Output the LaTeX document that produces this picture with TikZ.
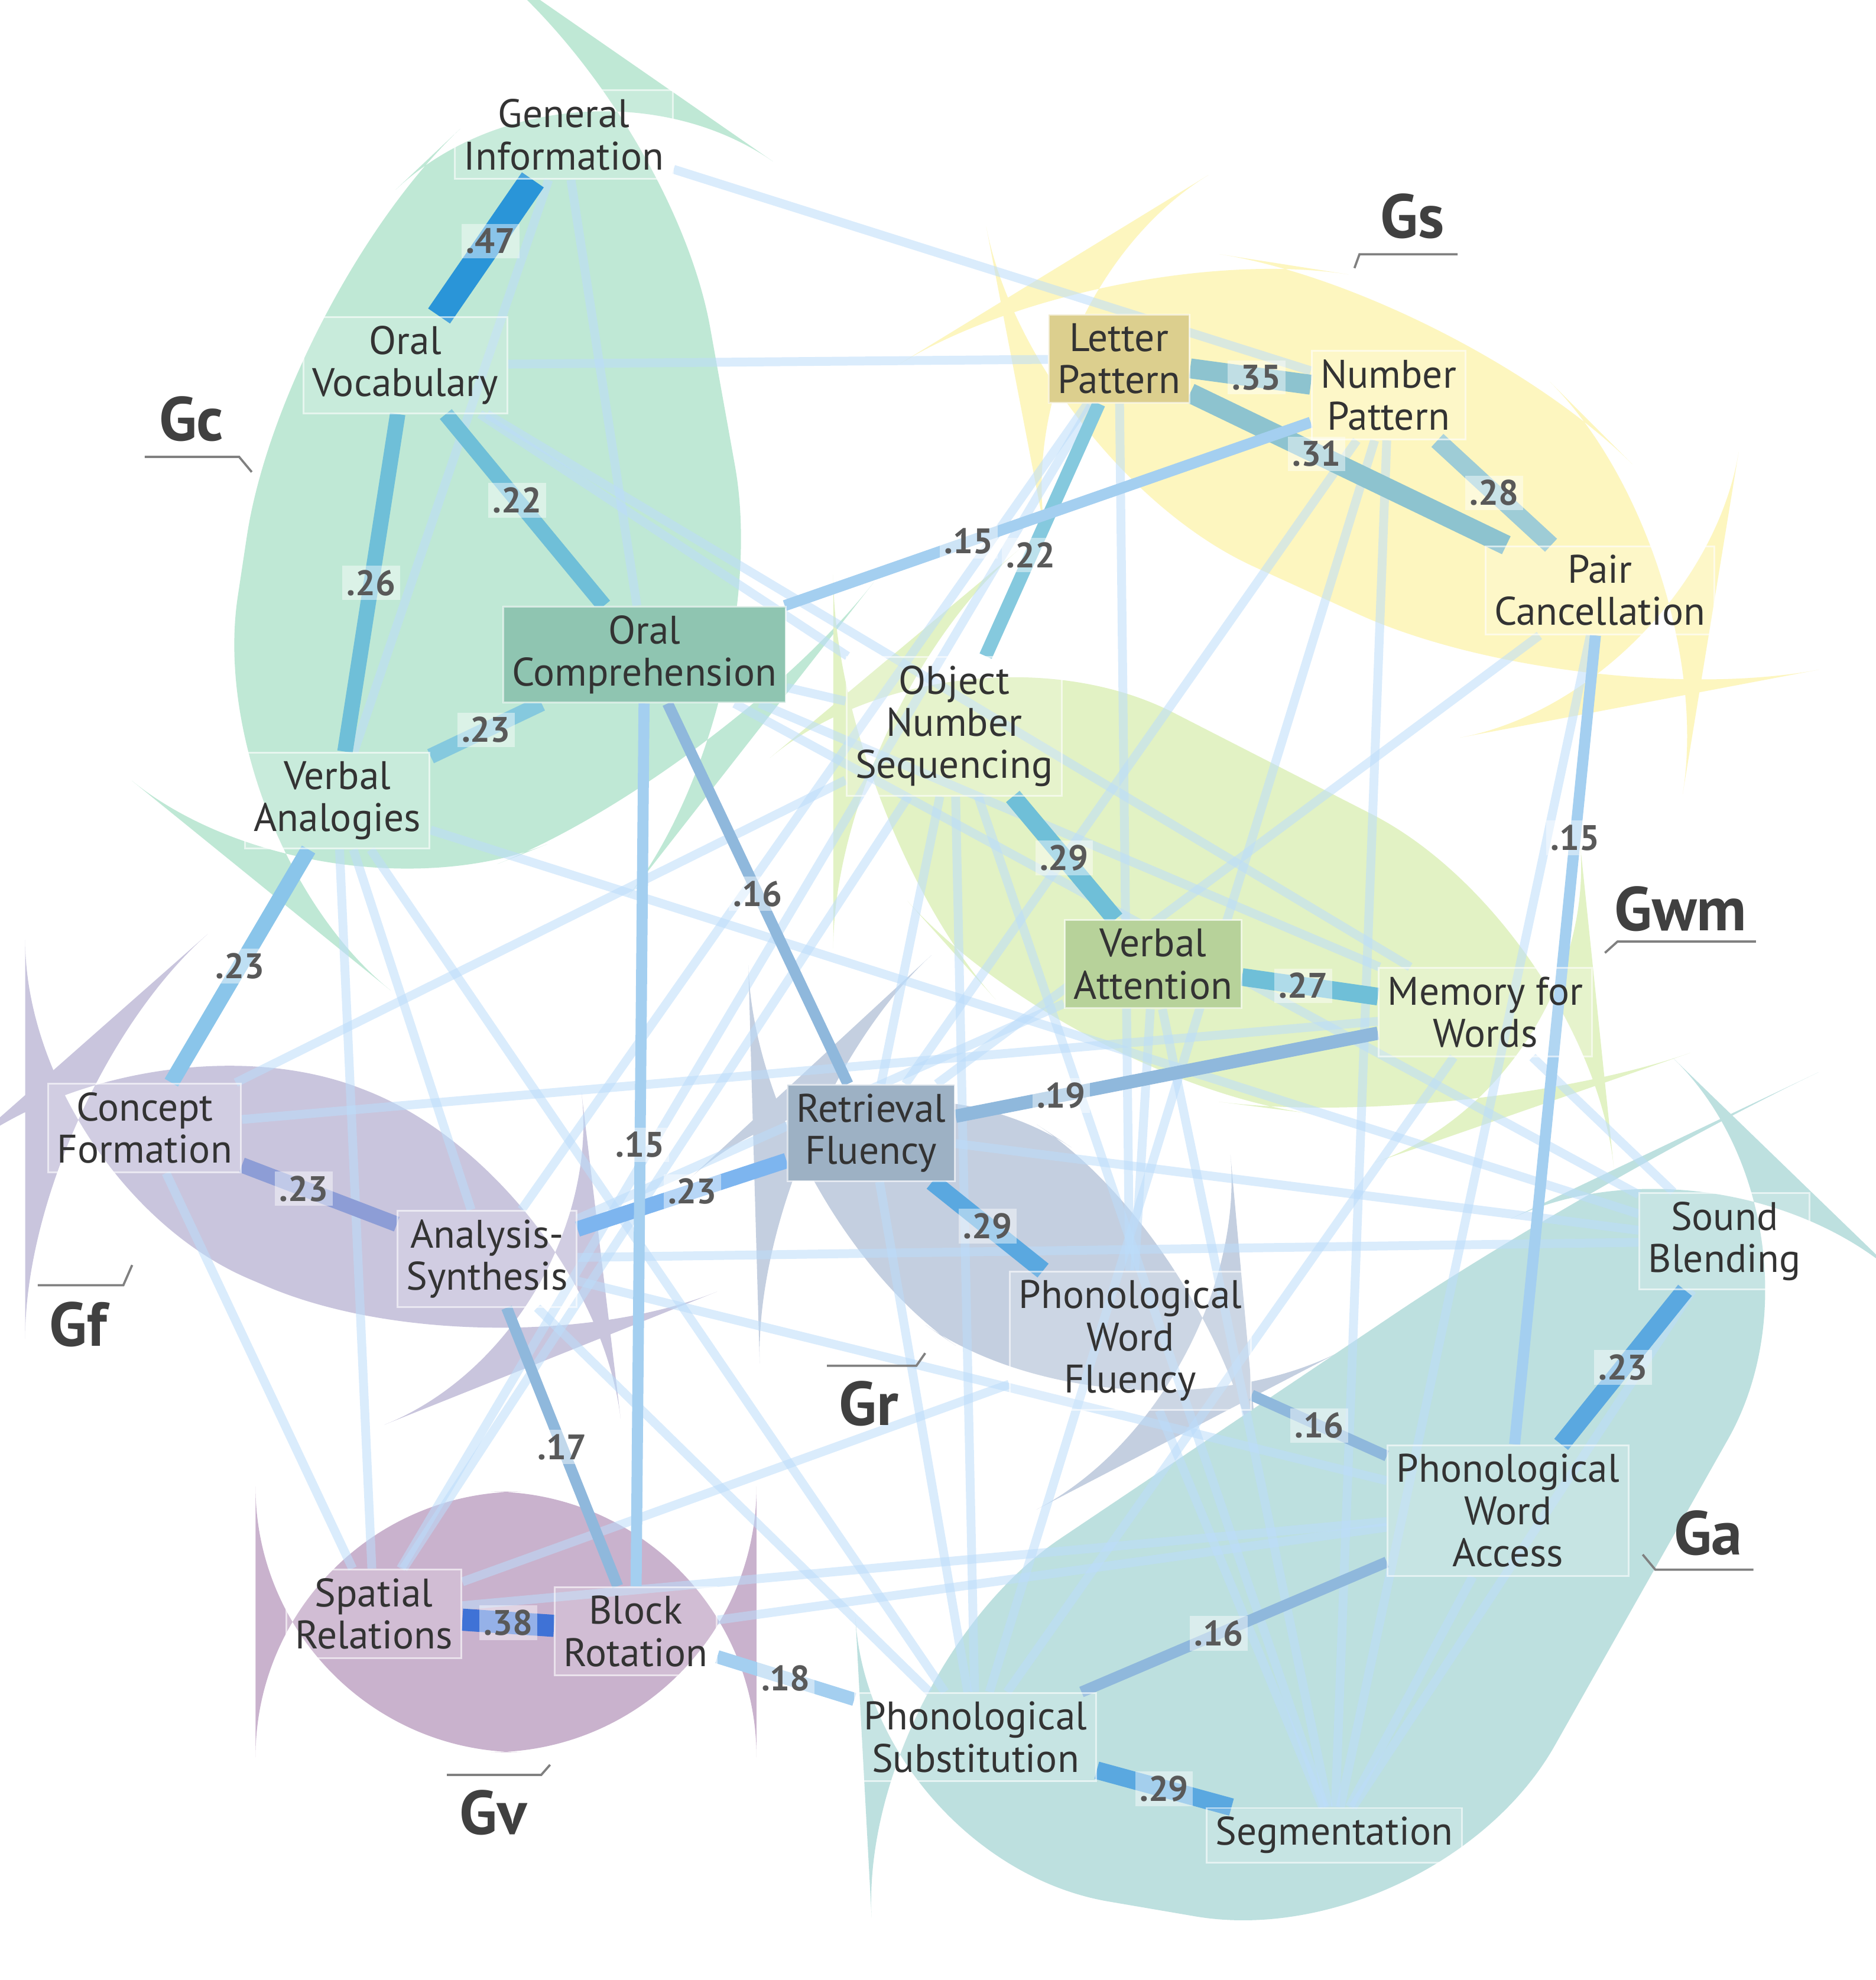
\documentclass[tikz,border=0pt]{standalone}
\usepackage{fontspec}
\setmainfont{PT Sans}
\usetikzlibrary{calc,positioning}
\definecolor{gccol}{HTML}{BFE8D5}
\definecolor{gscol}{HTML}{FDF6BF}
\definecolor{gwmcol}{HTML}{E2F2C4}
\definecolor{gfcol}{HTML}{C9C5DD}
\definecolor{grcol}{HTML}{C4CFE0}
\definecolor{gacol}{HTML}{BDE0DF}
\definecolor{gvcol}{HTML}{C9B2CD}
\definecolor{faintcol}{HTML}{BCDDFB}
\definecolor{ochub}{HTML}{8FC5B1}
\definecolor{lphub}{HTML}{DCCF8E}
\definecolor{vathub}{HTML}{B7D29A}
\definecolor{rfhub}{HTML}{9DB1C4}
\definecolor{ldark}{HTML}{2A95D8}
\definecolor{lteal}{HTML}{6FBFD8}
\definecolor{lsky}{HTML}{8AC5EA}
\definecolor{lpurp}{HTML}{8D9DD6}
\definecolor{lblue}{HTML}{7DB5EF}
\definecolor{lmid}{HTML}{8FB8DC}
\definecolor{lpale}{HTML}{A4CFF0}
\definecolor{lroyal}{HTML}{3F72D6}
\definecolor{lgreen}{HTML}{8DC3CF}
\definecolor{lstrong}{HTML}{5AA8E0}
\pgfdeclarelayer{bg}
\pgfdeclarelayer{mid}
\pgfsetlayers{bg,mid,main}
\tikzset{
    tasksty/.style={draw=white,draw opacity=0.6,fill=white,fill opacity=0.15,text opacity=1,align=center,
      inner sep=2pt,font=\fontsize{9}{9.5}\selectfont,text=black!80},
    hubsty/.style={tasksty,fill opacity=1},
    blobsty/.style={rounded corners=55pt,draw=none},
    faintsty/.style={faintcol,line width=2pt,opacity=0.55},
    wsty/.style={line width=#1},
    valsty/.style={font=\fontsize{8}{8}\selectfont\bfseries,text=black!65,fill=white,fill opacity=0.45,text opacity=1,inner sep=1pt},
    grpsty/.style={font=\fontsize{14}{14}\selectfont\bfseries,text=black!75},
    leadsty/.style={draw=black!50,line width=0.5pt},
}
\begin{document}
\begin{tikzpicture}[x=0.01cm,y=-0.01cm]
\begin{pgfonlayer}{bg}
\fill[white] (0,0) rectangle (1490,1573);
% group areas
\fill[gccol,blobsty] (455,18) -- (530,70) -- (618,560) -- (575,615) -- (255,742) -- (160,665) -- (225,235) -- cycle;
\fill[gscol,blobsty] (795,240) -- (880,188) -- (1160,232) -- (1368,440) -- (1350,550) -- (1255,568) -- (820,370) -- cycle;
\fill[gwmcol,blobsty] (662,560) -- (760,478) -- (1262,735) -- (1275,860) -- (1160,900) -- (850,860) -- (662,650) -- cycle;
\fill[gfcol,blobsty] (20,870) -- (105,795) -- (470,935) -- (485,1060) -- (390,1098) -- (20,940) -- cycle;
\fill[grcol,blobsty] (598,890) -- (690,805) -- (985,1000) -- (995,1110) -- (895,1162) -- (600,960) -- cycle;
\fill[gacol,blobsty] (1375,885) -- (1468,975) -- (1140,1555) -- (690,1478) -- (682,1330) -- (1270,935) -- cycle;
\fill[gvcol,rounded corners=60pt] (203,1185) rectangle (601,1392);
\end{pgfonlayer}
\useasboundingbox (0,0) rectangle (1490,1573);
% tasks
\node[tasksty] (gi) at (448,107) {General\\Information};
\node[tasksty] (ov) at (322,290) {Oral\\Vocabulary};
\node[hubsty,fill=ochub] (oc) at (512,520) {Oral\\Comprehension};
\node[tasksty] (va) at (268,636) {Verbal\\Analogies};
\node[tasksty] (cf) at (115,896) {Concept\\Formation};
\node[tasksty] (as) at (387,1000) {Analysis-\\Synthesis};
\node[tasksty] (sr) at (297,1282) {Spatial\\Relations};
\node[tasksty] (br) at (505,1296) {Block\\Rotation};
\node[hubsty,fill=lphub] (lp) at (889,285) {Letter\\Pattern};
\node[tasksty] (np) at (1103,314) {Number\\Pattern};
\node[tasksty] (pc) at (1271,469) {Pair\\Cancellation};
\node[tasksty] (ons) at (758,577) {Object\\Number\\Sequencing};
\node[hubsty,fill=vathub] (vat) at (916,766) {Verbal\\Attention};
\node[tasksty] (mw) at (1180,804) {Memory for\\Words};
\node[hubsty,fill=rfhub] (rf) at (692,900) {Retrieval\\Fluency};
\node[tasksty] (pwf) at (898,1065) {Phonological\\Word\\Fluency};
\node[tasksty] (sb) at (1370,986) {Sound\\Blending};
\node[tasksty] (pwa) at (1198,1200) {Phonological\\Word\\Access};
\node[tasksty] (ps) at (775,1380) {Phonological\\Substitution};
\node[tasksty] (seg) at (1060,1458) {Segmentation};
\begin{pgfonlayer}{mid}
% faint links
\foreach \a/\b in {gi/oc,gi/va,gi/np,ov/ons,ov/mw,oc/ons,oc/mw,oc/sb,va/as,va/sr,va/sb,va/ps,cf/ons,cf/sr,as/sb,as/ps,as/lp,sr/ons,sr/pwf,sr/pwa,br/pwa,lp/pwf,lp/sr,np/seg,np/ps,np/rf,ons/ps,ons/rf,ons/seg,vat/pwf,vat/seg,mw/ps,mw/sb,mw/cf,rf/ps,rf/sb,pwf/seg,pwa/seg,sb/seg,pc/rf,pc/seg,pwa/as,vat/as,ov/lp}
  \draw[faintsty] (\a) -- (\b);
% labelled links
\draw[wsty=6pt,ldark] (gi) -- node[valsty,pos=0.45] {.47} (ov);
\draw[wsty=3.5pt,lteal] (ov) -- node[valsty] {.26} (va);
\draw[wsty=3.5pt,lteal] (ov) -- node[valsty,pos=0.45] {.22} (oc);
\draw[wsty=3.5pt,lteal!85] (oc) -- node[valsty] {.23} (va);
\draw[wsty=3.5pt,lsky] (va) -- node[valsty] {.23} (cf);
\draw[wsty=3.5pt,lpurp] (cf) -- node[valsty,pos=0.4] {.23} (as);
\draw[wsty=3.5pt,lblue] (as) -- node[valsty,pos=0.55] {.23} (rf);
\draw[wsty=2.5pt,lmid] (oc) -- node[valsty,pos=0.5] {.16} (rf);
\draw[wsty=2.5pt,lmid] (as) -- node[valsty] {.17} (br);
\draw[wsty=2.5pt,lpale] (oc) -- node[valsty,pos=0.5] {.15} (br);
\draw[wsty=5pt,lroyal] (sr) -- node[valsty] {.38} (br);
\draw[wsty=3pt,lpale] (br) -- node[valsty] {.18} (ps);
\draw[wsty=4.5pt,lgreen] (lp) -- node[valsty,pos=0.55] {.35} (np);
\draw[wsty=4.5pt,lgreen] (lp) -- node[valsty,pos=0.4] {.31} (pc);
\draw[wsty=4pt,lgreen!85] (np) -- node[valsty] {.28} (pc);
\draw[wsty=3pt,lteal!85] (lp) -- node[valsty,pos=0.6] {.22} (ons);
\draw[wsty=2.5pt,lpale] (oc) -- node[valsty,pos=0.35] {.15} (np);
\draw[wsty=4pt,lteal] (ons) -- node[valsty] {.29} (vat);
\draw[wsty=4pt,lteal] (vat) -- node[valsty,pos=0.45] {.27} (mw);
\draw[wsty=3pt,lmid] (rf) -- node[valsty,pos=0.25] {.19} (mw);
\draw[wsty=4pt,lstrong] (rf) -- node[valsty] {.29} (pwf);
\draw[wsty=2.5pt,lmid] (pwf) -- node[valsty] {.16} (pwa);
\draw[wsty=4pt,lstrong] (pwa) -- node[valsty] {.23} (sb);
\draw[wsty=2.5pt,lpale] (pc) -- node[valsty,pos=0.25] {.15} (pwa);
\draw[wsty=2.5pt,lmid] (ps) -- node[valsty,pos=0.45] {.16} (pwa);
\draw[wsty=4pt,lstrong] (ps) -- node[valsty] {.29} (seg);
\end{pgfonlayer}
% group names
\node[grpsty] (gcname) at (152,333) {Gc};
\draw[leadsty] (115,363) -- (190,363) -- (200,375);
\node[grpsty] (gsname) at (1122,172) {Gs};
\draw[leadsty] (1076,213) -- (1080,202) -- (1158,202);
\node[grpsty] (gwmname) at (1335,722) {Gwm};
\draw[leadsty] (1275,757) -- (1285,748) -- (1395,748);
\node[grpsty] (gfname) at (62,1052) {Gf};
\draw[leadsty] (30,1021) -- (98,1021) -- (105,1005);
\node[grpsty] (grname) at (690,1115) {Gr};
\draw[leadsty] (657,1085) -- (728,1085) -- (735,1075);
\node[grpsty] (ganame) at (1357,1218) {Ga};
\draw[leadsty] (1305,1235) -- (1315,1247) -- (1393,1247);
\node[grpsty] (gvname) at (392,1440) {Gv};
\draw[leadsty] (355,1410) -- (430,1410) -- (437,1402);
\end{tikzpicture}
\end{document}
